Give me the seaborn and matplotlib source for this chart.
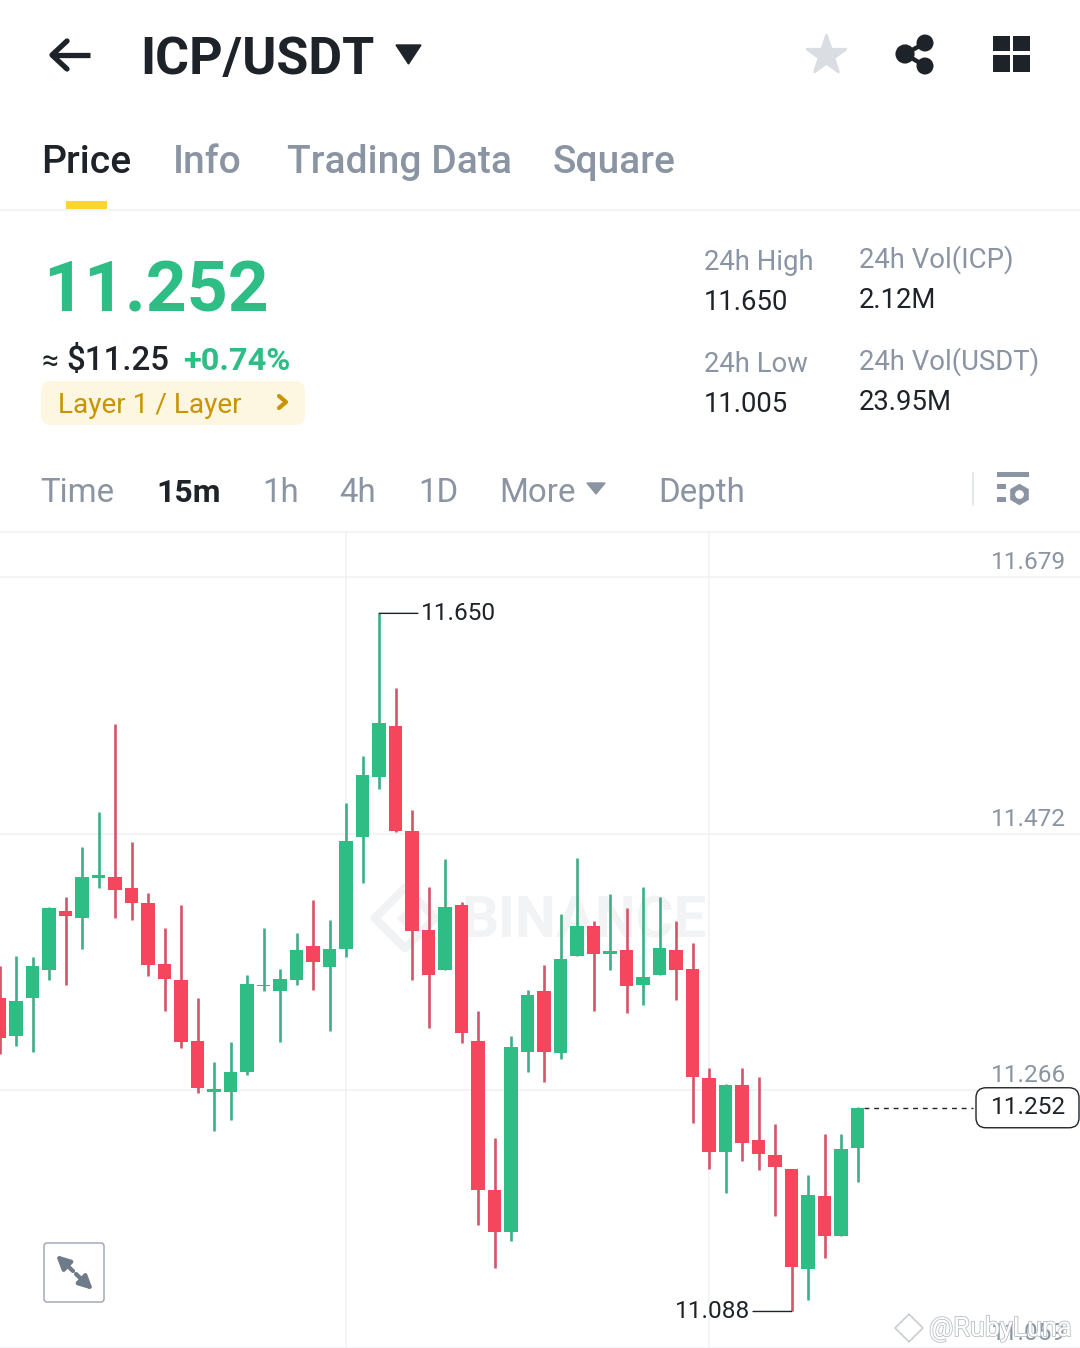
import matplotlib
matplotlib.use("Agg")
import matplotlib.pyplot as plt
import matplotlib.patheffects as pe
from matplotlib.patches import FancyBboxPatch, Rectangle
import pandas as pd
import seaborn as sns

# candles, oldest first
opens = [11.340, 11.310, 11.340, 11.363, 11.410, 11.405, 11.437, 11.438, 11.429, 11.417, 11.368,
         11.355, 11.306, 11.265, 11.265, 11.281, 11.350, 11.346, 11.355, 11.382, 11.365, 11.380,
         11.470, 11.518, 11.559, 11.475, 11.395, 11.363, 11.415, 11.306, 11.186, 11.152, 11.297,
         11.346, 11.296, 11.374, 11.398, 11.376, 11.379, 11.351, 11.359, 11.379, 11.364, 11.276,
         11.216, 11.270, 11.226, 11.214, 11.203, 11.122, 11.181, 11.149, 11.220]
closes = [11.308, 11.338, 11.366, 11.413, 11.406, 11.438, 11.439, 11.427, 11.417, 11.367, 11.356,
          11.305, 11.268, 11.267, 11.281, 11.352, 11.351, 11.356, 11.379, 11.369, 11.380, 11.467,
          11.520, 11.562, 11.475, 11.394, 11.359, 11.414, 11.312, 11.186, 11.152, 11.301, 11.343,
          11.297, 11.372, 11.398, 11.376, 11.378, 11.350, 11.357, 11.381, 11.363, 11.277, 11.216,
          11.270, 11.224, 11.215, 11.204, 11.124, 11.182, 11.149, 11.219, 11.252]
highs = [11.366, 11.374, 11.373, 11.414, 11.422, 11.462, 11.490, 11.561, 11.466, 11.425, 11.397,
         11.415, 11.340, 11.289, 11.305, 11.359, 11.397, 11.364, 11.393, 11.419, 11.403, 11.497,
         11.535, 11.650, 11.590, 11.492, 11.430, 11.452, 11.418, 11.330, 11.228, 11.310, 11.347,
         11.367, 11.408, 11.453, 11.402, 11.424, 11.413, 11.430, 11.422, 11.402, 11.385, 11.284,
         11.271, 11.284, 11.277, 11.239, 11.203, 11.198, 11.231, 11.231, 11.253]
lows = [11.295, 11.302, 11.297, 11.355, 11.351, 11.380, 11.429, 11.405, 11.403, 11.358, 11.330,
        11.300, 11.264, 11.233, 11.242, 11.278, 11.346, 11.305, 11.351, 11.347, 11.314, 11.373,
        11.433, 11.509, 11.474, 11.355, 11.316, 11.363, 11.304, 11.158, 11.123, 11.145, 11.281,
        11.273, 11.291, 11.374, 11.330, 11.363, 11.328, 11.335, 11.359, 11.339, 11.240, 11.203,
        11.183, 11.209, 11.202, 11.165, 11.088, 11.097, 11.131, 11.149, 11.192]

price_ticks = [11.679, 11.472, 11.266, 11.059]
time_grid = [21, 43]
last_price = 11.252
day_high = 11.650
day_low = 11.088

tabs = ["Price", "Info", "Trading Data", "Square"]
periods = ["Time", "15m", "1h", "4h", "1D", "More", "Depth"]

GREEN = "#2EBD85"
RED = "#F6465D"
DARK = "#1E2329"
GREY = "#8A94A3"
LINE = "#EFF1F3"

sns.set_theme(style="white")
plt.rcParams["font.family"] = ["Roboto", "DejaVu Sans"]

df = pd.DataFrame({"idx": range(len(opens)), "open": opens, "close": closes, "high": highs, "low": lows})
df["body"] = (df.close - df.open).abs()
df["base"] = df[["open", "close"]].min(axis=1)
up = df[df.close >= df.open]
down = df[df.close < df.open]

fig = plt.figure(figsize=(10.8, 13.48), dpi=100, facecolor="white")


def pixel_axes(z):
    a = fig.add_axes([0, 0, 1, 1], zorder=z)
    a.set_xlim(0, 1080)
    a.set_ylim(1348, 0)
    a.axis("off")
    return a


bg = pixel_axes(0)
ui = pixel_axes(2)
ax = fig.add_axes([0, 0, 1, 817 / 1348], zorder=1)
ax.patch.set_alpha(0)


def label(x, y, s, px, color=DARK, weight="normal", ha="left", target=ui, **kw):
    return target.text(x, y, s, fontsize=px * 0.72, color=color, fontweight=weight, ha=ha, va="baseline", **kw)


# --- chart ---
ax.vlines(up.idx, up.low, up.high, color="#3BAF86", lw=1.9, zorder=2)
ax.vlines(down.idx, down.low, down.high, color="#D4546A", lw=1.9, zorder=2)
sns.barplot(data=up, x="idx", y="body", bottom=up["base"], native_scale=True, color=GREEN, saturation=1,
            width=0.82, errorbar=None, linewidth=0, zorder=3, ax=ax)
sns.barplot(data=down, x="idx", y="body", bottom=down["base"], native_scale=True, color=RED, saturation=1,
            width=0.82, errorbar=None, linewidth=0, zorder=3, ax=ax)
ax.set_xlim(0.02, 65.47)
ax.set_ylim(11.0586, 11.7163)
ax.set(xlabel="", ylabel="", xticks=[], yticks=[])
sns.despine(ax=ax, left=True, bottom=True)

for t in price_ticks:
    ax.axhline(t, color=LINE, lw=1.1, zorder=0, clip_on=False)
    ax.annotate(f"{t:.3f}", xy=(1, t), xycoords=ax.get_yaxis_transform(), xytext=(-14, 3),
                textcoords="offset pixels", ha="right", va="bottom", fontsize=17.6, color=GREY)
for i in time_grid:
    ax.axvline(i, color=LINE, lw=1.1, zorder=0)

line_kw = dict(arrowstyle="-", color=DARK, lw=1, shrinkA=0, shrinkB=0)
ax.annotate(f"{day_high:.3f}", xy=(23, day_high), xytext=(42, 0), textcoords="offset pixels", ha="left",
            va="center", fontsize=17.6, color=DARK, arrowprops=line_kw)
ax.annotate(f"{day_low:.3f}", xy=(48, day_low), xytext=(-42, 0), textcoords="offset pixels", ha="right",
            va="center", fontsize=17.6, color=DARK, arrowprops=line_kw)

ax.plot([52.4, 59], [last_price, last_price], color=DARK, lw=1, ls=(0, (3.5, 3.5)), zorder=1)

# last price tag sits on the pixel layer, at the height of the price
tag_y = ui.transData.inverted().transform(ax.transData.transform((0, last_price)))[1]
ui.add_patch(FancyBboxPatch((984, tag_y - 12), 87, 24, boxstyle="round,pad=8,rounding_size=10", fc="white",
                            ec=DARK, lw=1, zorder=5))
ui.text(1066, tag_y, f"{last_price:.3f}", ha="right", va="center", fontsize=17.6, color=DARK, zorder=6)

# --- background watermark ---
label(461, 937, "BINANCE", 58, color="#F2F3F4", weight="bold", target=bg)
bg.scatter([405], [918], marker="D", s=950, facecolor="none", edgecolor="#F1F2F3", linewidth=6)
bg.scatter([405], [918], marker="D", s=60, color="#F1F2F3")

# --- header ---
ui.plot([54, 90], [55, 55], color=DARK, lw=3.8, solid_capstyle="butt")
ui.plot([67, 52, 67], [41, 55, 69], color=DARK, lw=3.8)
label(140, 74, "ICP/USDT", 52, weight="bold")
ui.fill([396, 421, 408.5], [45, 45, 64], color=DARK)

ui.scatter([826], [55], marker="*", s=850, color="#DADDE2", linewidth=2, edgecolor="#DADDE2")
ui.plot([925, 905, 925], [43, 54, 66], color=DARK, lw=3.2)
ui.scatter([905, 925, 925], [54, 43, 66], s=[190, 150, 150], color=DARK, linewidth=0)
for x0 in (993, 1013):
    for y0, h in ((36, 15), (55, 17)):
        ui.add_patch(Rectangle((x0, y0), 17, h, color=DARK, lw=0))

# --- tabs ---
for s, x in zip(tabs, [41, 173, 287, 553]):
    label(x, 173, s, 39, color=DARK if s == "Price" else GREY, weight="medium")
ui.add_patch(Rectangle((66, 201), 41, 8, color="#FCD535", lw=0))
ui.plot([0, 1080], [209.5, 209.5], color=LINE, lw=1.1)

# --- price block ---
label(43, 311, "11.252", 71.5, color=GREEN, weight="bold")
label(42, 370, "≈", 30)
label(66, 370, "$11.25", 33, weight="medium")
label(183, 370, "+0.74%", 32.5, color=GREEN, weight="bold")
ui.add_patch(FancyBboxPatch((49, 389), 248, 28, boxstyle="round,pad=8,rounding_size=10", fc="#FDF6E0", ec="none"))
label(58, 413, "Layer 1 / Layer", 28, color="#C99400")
ui.plot([279, 286, 279], [396, 402, 408], color="#C99400", lw=3)

stats = [(704, 270, "24h High", 310, "11.650"), (859, 268, "24h Vol(ICP)", 308, "2.12M"),
         (704, 372, "24h Low", 412, "11.005"), (859, 370, "24h Vol(USDT)", 410, "23.95M")]
for x, y1, name, y2, val in stats:
    label(x, y1, name, 27.5, color=GREY)
    label(x, y2, val, 27.5)

# --- period bar ---
for s, x in zip(periods, [40, 156, 262, 339, 418, 499, 658]):
    label(x, 502, s, 32 if s == "15m" else 33, color=DARK if s == "15m" else GREY,
          weight="bold" if s == "15m" else "normal")
ui.fill([587, 605, 596], [483, 483, 494], color=GREY)
ui.plot([972.5, 972.5], [473, 505], color="#E6E8EB", lw=1.5)
ui.add_patch(Rectangle((997, 472), 32, 5, color=GREY, lw=0))
ui.add_patch(Rectangle((997, 484), 9, 5, color=GREY, lw=0))
ui.add_patch(Rectangle((997, 497), 9, 5, color=GREY, lw=0))
ui.scatter([1019], [494], marker="h", s=240, color=GREY, linewidth=0)
ui.scatter([1019], [494], marker="o", s=40, color="white", linewidth=0)
ui.plot([0, 1080], [531.5, 531.5], color=LINE, lw=1.1)

# --- expand button ---
ui.add_patch(FancyBboxPatch((47, 1246), 54, 53, boxstyle="round,pad=3,rounding_size=3", fc="white", ec="#9AA3AF", lw=1))
arrow_kw = dict(arrowstyle="-|>", color="#6F7B8A", lw=3, mutation_scale=20, shrinkA=0, shrinkB=0)
ui.annotate("", xy=(56, 1255), xytext=(73, 1271), arrowprops=arrow_kw)
ui.annotate("", xy=(93, 1290), xytext=(76, 1274), arrowprops=arrow_kw)

# --- author watermark ---
ui.scatter([909], [1328], marker="D", s=200, facecolor="none", edgecolor="#C9CDD2", linewidth=1.2)
label(929, 1336, "@RubyLuna", 27, color="white", zorder=8,
      path_effects=[pe.withStroke(linewidth=1.2, foreground="#B9BEC4")])

fig.savefig("out.png", dpi=100)
